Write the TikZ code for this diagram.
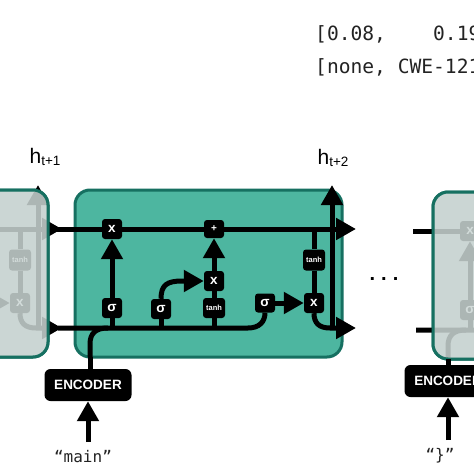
\documentclass[tikz,border=0pt]{standalone}
\usepackage{fontspec}
\setmainfont{Liberation Sans}
\newfontfamily\codefont{DejaVu Sans Mono}
\usetikzlibrary{arrows.meta}
\definecolor{tealfill}{RGB}{77,182,160}
\definecolor{tealdark}{RGB}{22,112,97}
\definecolor{fadefill}{RGB}{203,214,212}
\definecolor{inkgray}{RGB}{35,35,35}
\tikzset{
  ln/.style={line width=5pt},
  arr/.style={ln, -{Triangle[length=20pt,width=21pt]}},
  cellbox/.style={draw=tealdark, line width=3pt, rounded corners=15pt},
  gate/.style={fill=black, rounded corners=3pt, minimum width=20pt, minimum height=20pt,
    inner sep=0pt, text=white, font=\bfseries\fontsize{13.5}{13.5}\selectfont},
  tgate/.style={gate, minimum width=22pt, font=\bfseries\fontsize{7.5}{8}\selectfont},
  pgate/.style={gate, minimum height=18pt, font=\bfseries\fontsize{10}{10}\selectfont},
  encbox/.style={fill=black, rounded corners=6pt, minimum width=87pt, minimum height=32pt,
    inner sep=0pt, text=white, font=\bfseries\fontsize{13.5}{14}\selectfont},
  codelab/.style={inner sep=0pt, text=inkgray, font=\codefont\fontsize{16}{16}\selectfont},
  toptext/.style={inner sep=0pt, anchor=base west, text=inkgray, font=\codefont\fontsize{19.6}{20}\selectfont},
  hlab/.style={inner sep=0pt, text=black, font=\fontsize{21}{21}\selectfont},
  pics/lstm/.style={code={
    \draw[cellbox, fill=#1] (75,190) rectangle (342,357);
    \coordinate (bl) at (75,357);
    \coordinate (tr) at (342,190);
    \node[gate] (x1) at (112,229) {x};
    \node[pgate] (p) at (214,229) {+};
    \node[gate] (s1) at (112,308) {σ};
    \node[gate] (s2) at (161,309) {σ};
    \node[tgate] (t1) at (214,308) {tanh};
    \node[gate] (x2) at (214,281) {x};
    \node[gate, minimum height=19pt] (s3) at (265,303) {σ};
    \node[gate] (x3) at (314,303) {x};
    \node[tgate, minimum height=21pt] (t3) at (314,260) {tanh};
    \coordinate (cin) at (55,229);
    \coordinate (cout) at (356,229);
    \coordinate (hin) at (58,328);
    \coordinate (hout) at (356,328);
    \coordinate (hup) at (332,185);
    \coordinate (hbase) at (332,328);
    \coordinate (ctap) at (314,229);
    \coordinate (b1) at (112,328);
    \coordinate (b2) at (161,328);
    \coordinate (b3) at (214,328);
    \coordinate (bot) at (90,357);
    \draw[ln] (cin) -- (x1);
    \draw[ln] (x1) -- (p);
    \draw[arr] (p) -- (cout);
    \draw[ln] (hin) -- (248,328) .. controls (259,328) and (265,322) .. (s3.south);
    \draw[ln] (bot) -- (90,344) .. controls (90,333) and (96,328) .. (108,328);
    \draw[ln] (b1) -- (s1);
    \draw[ln] (b2) -- (s2);
    \draw[ln] (b3) -- (t1);
    \draw[arr] (s1) -- (x1);
    \draw[ln] (t1) -- (x2);
    \draw[arr] (x2) -- (p);
    \draw[arr] (s2.north) .. controls (161,285) and (167,281) .. (182,281) -- (x2);
    \draw[arr] (s3) -- (x3);
    \draw[ln] (ctap) -- (t3);
    \draw[ln] (t3) -- (x3);
    \draw[arr] (x3.south) .. controls (314,323) and (319,328) .. (330,328) -- (hout);
    \draw[arr] (hbase) -- (hup);
  }}
}
\begin{document}
\begin{tikzpicture}[x=1pt,y=-1pt]
\useasboundingbox (0,0) rectangle (474,474);
\clip (0,0) rectangle (474,474);
\fill[white] (0,0) rectangle (474,474);
% left faded cell
\pic (L) at (-294,0) {lstm=fadefill};
\draw[cellbox, fill=fadefill, fill opacity=0.85] (Lbl) rectangle (Ltr);
% main cell
\pic (M) at (0,0) {lstm=tealfill};
% right faded cell
\pic (R) at (358,2) {lstm=fadefill};
\draw[cellbox, fill=fadefill, fill opacity=0.85] (Rbl) rectangle (Rtr);
% encoders
\node[encbox] (enc1) at (88,385) {ENCODER};
\draw[ln] (enc1.north -| Mbot) -- (Mbot);
\node[codelab] (lab1) at (83,457) {“main”};
\coordinate (a1) at (88,442);
\draw[arr] (a1) -- (enc1.south -| a1);
\node[encbox] (enc2) at (448,381) {ENCODER};
\draw[ln] (enc2.north -| Rbot) -- (Rbot);
\node[codelab] (lab2) at (440,456) {“\}”};
\coordinate (a2) at (448,440);
\draw[arr] (a2) -- (enc2.south -| a2);
% labels
\node[hlab] (h1) at (45,157) {h\raisebox{-1.5pt}{\fontsize{13.5}{13.5}\selectfont t+1}};
\node[hlab] (h2) at (333,158) {h\raisebox{-1.5pt}{\fontsize{13.5}{13.5}\selectfont t+2}};
\node[inner sep=0pt, font=\bfseries\fontsize{20}{20}\selectfont] (dots) at (384,279) {.\hspace{6pt}.\hspace{6pt}.};
\node[toptext] (t1) at (315,40) {[0.08,\ \ \ \ 0.19};
\node[toptext] (t2) at (315,73) {[none, CWE-121};
\end{tikzpicture}
\end{document}
